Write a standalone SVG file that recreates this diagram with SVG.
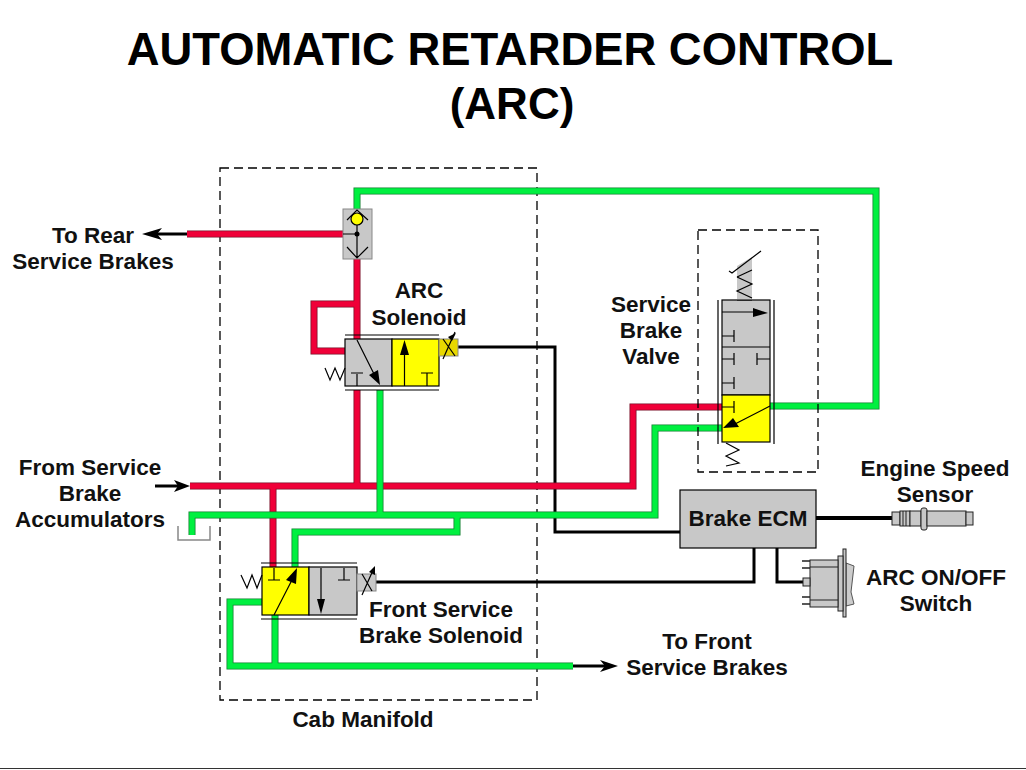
<svg xmlns="http://www.w3.org/2000/svg" width="1026" height="770" viewBox="0 0 1026 770">
<style>
text{font-family:"Liberation Sans",Arial,sans-serif;font-weight:bold;fill:#111;text-anchor:middle;font-size:22.5px}
.title{font-size:45.4px;fill:#000}
.ro{fill:none;stroke:#7a1028;stroke-width:7}
.r{fill:none;stroke:#f00038;stroke-width:5.4}
.go{fill:none;stroke:#128030;stroke-width:7}
.g{fill:none;stroke:#00f040;stroke-width:5.4}
.k{fill:none;stroke:#000;stroke-width:3}
.k4{fill:none;stroke:#000;stroke-width:4}
.t{fill:none;stroke:#000;stroke-width:1.2}
.gy{fill:#c8c8c8;stroke:#000;stroke-width:1.2}
.yl{fill:#ffff00;stroke:#000;stroke-width:1.2}
.dash{fill:none;stroke:#000;stroke-width:1.3;stroke-dasharray:9 5}
.a{fill:#000;stroke:none}
.s{fill:#c8c8c8;stroke:#222;stroke-width:1}
</style>
<defs>
<path id="redp" d="M187 234H343M357 259V339M357 304H314V351H345M357 390V486M190 486H633V407H722M273 486V567"/>
<path id="greenp" d="M357 210V191H876V406H770M192 535V515H655V428H722M380 390V515M457 515V532H295V567M275 615V666M262 602H230V666H573"/>
</defs>
<rect width="1026" height="770" fill="#fff"/>
<g id="title"><text class="title" x="510" y="65">AUTOMATIC RETARDER CONTROL</text><text class="title" style="font-size:44px" x="512" y="119">(ARC)</text></g>
<g id="cab-manifold"><rect class="dash" x="220" y="168" width="317" height="532"/><text x="363" y="727">Cab Manifold</text></g>
<g id="connectors">
<path d="M178 526V540H210V526" fill="none" stroke="#888" stroke-width="1.5"/>
<path class="k" d="M458 347H555V532H680M376 582H754V548M777 548V582H803"/>
<path class="k4" d="M816 518H893"/>
<path class="k" d="M187 234H155M155 486H178M573 666H606"/>
<path class="a" d="M142 234L162 228L157 234L162 240ZM190 486L174 480L178 486L174 492ZM618 666L600 660L605 666L600 672Z"/>
<g id="red"><use href="#redp" class="ro"/><use href="#redp" class="r"/></g>
<g id="green"><use href="#greenp" class="go"/><use href="#greenp" class="g"/></g>
</g>
<g id="shuttle-valve"><rect x="343" y="209" width="29" height="50" fill="#c8c8c8" stroke="#888"/><circle cx="357" cy="219" r="6" class="yl"/><path class="t" d="M347 220L357 210L368 220M347 247L357 258L368 247M343 234H357M357 225V258"/><circle cx="357" cy="234" r="2.5"/></g>
<g id="arc-solenoid">
<rect class="gy" x="345" y="339" width="47" height="47"/><rect class="yl" x="392" y="339" width="47" height="47"/>
<path class="t" d="M345 335H439M345 390H439M357 340L376 378M357 374V386M351 373H363M404.500 386V350M427 386V373M421 373H433M345 368L340 380L335 368L330 380L325 368"/>
<path class="a" d="M380 385L369 375L378 370ZM404.500 340L409 355H400Z"/>
<rect x="439" y="339" width="19" height="17" fill="#e8d800" stroke="#888"/>
<path class="t" d="M443 339L455 356M455 332L443 359"/><path class="a" d="M456 333L452 341L448 337Z"/>
<text x="419" y="298">ARC</text><text x="419" y="325">Solenoid</text>
</g>
<g id="front-service-brake-solenoid">
<rect class="yl" x="262" y="567" width="47" height="48"/><rect class="gy" x="309" y="567" width="48" height="48"/>
<path class="t" d="M261 563H357M261 619H357M274 568V580M268 580H280M274 615L293 578M321 568V602M344 568V580M338 580H350M262 575L257 588L252 575L247 588L241 575"/>
<path class="a" d="M297 568L296 584L286 580ZM321 614L317 599H325Z"/>
<rect x="357" y="574" width="19" height="17" fill="#c8c8c8" stroke="#888"/>
<path class="t" d="M362 574L372 591M374 568L362 595"/><path class="a" d="M375 566L375 575L369 572Z"/>
<text x="441" y="617">Front Service</text><text x="441" y="643">Brake Solenoid</text>
</g>
<g id="service-brake-valve">
<rect class="dash" x="698" y="230" width="120" height="242"/>
<rect class="gy" x="722" y="300" width="48" height="95"/><rect class="yl" x="722" y="395" width="48" height="47"/>
<path d="M737 300V266L752 257V300Z" fill="#c8c8c8"/>
<path class="t" d="M729 271L732 273L761 251M737 277L752 284L737 291L752 298M737 277L752 270M737 300H752M718 300V444M774 300V444M722 312H756M722 347H770M722 336H734M734 330V342M722 359H734M734 353V365M770 359H757M757 353V365M722 383H734M734 377V389M722 407H734M734 401V413M770 406L735 424M726 443L739 450L726 456L739 463L726 466"/>
<path class="a" d="M768 313L753 308V317ZM723 428L733 418L739 427Z"/>
<text x="651" y="312">Service</text><text x="651" y="338">Brake</text><text x="651" y="364">Valve</text>
</g>
<g id="brake-ecm"><rect x="680" y="490" width="136" height="58" fill="#c8c8c8" stroke="#000" stroke-width="1.2"/><text x="748" y="526">Brake ECM</text></g>
<g id="engine-speed-sensor">
<rect class="s" x="892" y="512" width="8" height="13"/><rect class="s" x="900" y="511" width="10" height="15"/><path d="M903 511V526M906 511V526" stroke="#222"/><rect class="s" x="910" y="511" width="11" height="15"/><rect class="s" x="921" y="508" width="6" height="22" rx="2"/><rect class="s" x="927" y="511" width="39" height="15"/><rect class="s" x="966" y="512" width="7" height="13"/>
<text x="935" y="476">Engine Speed</text><text x="935" y="502">Sensor</text>
</g>
<g id="arc-on-off-switch">
<path d="M846 563L854 566L851 592L854 604L846 606Z" fill="#ccc" stroke="#555"/><rect class="s" x="843" y="549" width="3" height="68"/><rect class="s" x="838" y="556" width="5" height="55"/><rect class="s" x="810" y="560" width="28" height="47"/><path d="M810 567H838M810 600H838" stroke="#222"/>
<path d="M802 561H810M802 568H810M802 597H810M802 604H810" stroke="#222" stroke-width="1.5" fill="none"/><rect class="s" x="803" y="578" width="7" height="8"/>
<text x="936" y="585">ARC ON/OFF</text><text x="936" y="611">Switch</text>
</g>
<g id="labels">
<text x="93" y="243">To Rear</text><text x="93" y="269">Service Brakes</text>
<text x="90" y="475">From Service</text><text x="90" y="501">Brake</text><text x="90" y="527">Accumulators</text>
<text x="707" y="649">To Front</text><text x="707" y="675">Service Brakes</text>
</g>
<path d="M0 768.5H1026" stroke="#333" stroke-width="1"/>
</svg>
